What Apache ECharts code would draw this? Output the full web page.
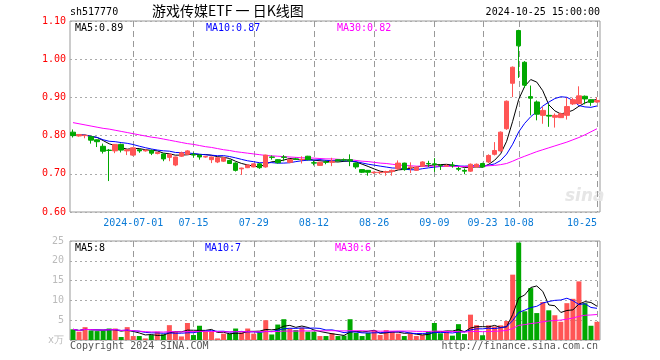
<!DOCTYPE html>
<html><head><meta charset="utf-8">
<script src="https://cdn.jsdelivr.net/npm/echarts@6/dist/echarts.min.js"></script>
<style>html,body{margin:0;padding:0;background:#fff}#c{width:660px;height:360px}</style>
</head><body><div id="c"></div><script>
const dates = [
'2024-06-17','2024-06-18','2024-06-19','2024-06-20','2024-06-21','2024-06-24','2024-06-25','2024-06-26','2024-06-27','2024-06-28',
'2024-07-01','2024-07-02','2024-07-03','2024-07-04','2024-07-05','2024-07-08','2024-07-09','2024-07-10','2024-07-11','2024-07-12',
'2024-07-15','2024-07-16','2024-07-17','2024-07-18','2024-07-19','2024-07-22','2024-07-23','2024-07-24','2024-07-25','2024-07-26',
'2024-07-29','2024-07-30','2024-07-31','2024-08-01','2024-08-02','2024-08-05','2024-08-06','2024-08-07','2024-08-08','2024-08-09',
'2024-08-12','2024-08-13','2024-08-14','2024-08-15','2024-08-16','2024-08-19','2024-08-20','2024-08-21','2024-08-22','2024-08-23',
'2024-08-26','2024-08-27','2024-08-28','2024-08-29','2024-08-30','2024-09-02','2024-09-03','2024-09-04','2024-09-05','2024-09-06',
'2024-09-09','2024-09-10','2024-09-11','2024-09-12','2024-09-13','2024-09-18','2024-09-19','2024-09-20','2024-09-23','2024-09-24',
'2024-09-25','2024-09-26','2024-09-27','2024-09-30','2024-10-08','2024-10-09','2024-10-10','2024-10-11','2024-10-14','2024-10-15',
'2024-10-16','2024-10-17','2024-10-18','2024-10-21','2024-10-22','2024-10-23','2024-10-24','2024-10-25'];
const openP = [0.809,0.799,0.800,0.797,0.789,0.772,0.762,0.760,0.777,0.760,
0.749,0.763,0.760,0.761,0.753,0.752,0.743,0.723,0.746,0.751,
0.751,0.749,0.744,0.737,0.731,0.733,0.735,0.728,0.713,0.716,
0.718,0.726,0.718,0.744,0.737,0.744,0.730,0.739,0.737,0.746,
0.729,0.722,0.731,0.730,0.737,0.737,0.737,0.728,0.711,0.709,
0.703,0.703,0.704,0.706,0.713,0.728,0.716,0.709,0.720,0.727,
0.726,0.722,0.720,0.723,0.714,0.709,0.707,0.718,0.727,0.731,
0.751,0.760,0.818,0.937,1.075,0.992,0.902,0.888,0.853,0.853,
0.848,0.847,0.853,0.883,0.884,0.903,0.894,0.888];
const closeP = [0.800,0.803,0.801,0.788,0.784,0.759,0.761,0.777,0.762,0.763,
0.768,0.760,0.762,0.754,0.756,0.739,0.751,0.744,0.755,0.760,
0.749,0.744,0.745,0.744,0.742,0.742,0.727,0.709,0.715,0.723,
0.726,0.716,0.749,0.743,0.729,0.743,0.737,0.738,0.738,0.737,
0.728,0.730,0.730,0.733,0.734,0.736,0.734,0.718,0.704,0.704,
0.704,0.704,0.706,0.709,0.728,0.711,0.718,0.718,0.731,0.726,
0.724,0.721,0.722,0.721,0.712,0.707,0.725,0.725,0.718,0.748,
0.761,0.809,0.890,0.979,1.035,0.932,0.898,0.856,0.866,0.851,
0.853,0.857,0.876,0.894,0.904,0.896,0.887,0.892];
const highP = [0.816,0.804,0.802,0.799,0.790,0.779,0.765,0.778,0.779,0.764,
0.769,0.765,0.763,0.764,0.757,0.754,0.752,0.745,0.758,0.762,
0.756,0.750,0.747,0.745,0.744,0.744,0.737,0.730,0.716,0.724,
0.727,0.728,0.750,0.748,0.738,0.749,0.739,0.742,0.746,0.747,
0.734,0.731,0.735,0.742,0.738,0.740,0.751,0.729,0.712,0.710,
0.706,0.707,0.708,0.711,0.735,0.729,0.730,0.720,0.733,0.734,
0.741,0.724,0.724,0.731,0.718,0.714,0.727,0.727,0.729,0.751,
0.783,0.811,0.892,0.981,1.077,0.995,0.931,0.892,0.875,0.883,
0.858,0.860,0.899,0.899,0.929,0.905,0.895,0.900];
const lowP = [0.795,0.797,0.793,0.779,0.770,0.753,0.681,0.754,0.756,0.749,
0.747,0.755,0.758,0.749,0.751,0.733,0.733,0.720,0.744,0.750,
0.742,0.737,0.742,0.728,0.728,0.731,0.726,0.706,0.697,0.715,
0.717,0.713,0.716,0.737,0.727,0.733,0.728,0.736,0.727,0.735,
0.722,0.721,0.725,0.720,0.733,0.733,0.720,0.713,0.702,0.695,
0.700,0.699,0.695,0.695,0.710,0.708,0.702,0.708,0.718,0.718,
0.705,0.710,0.718,0.716,0.707,0.699,0.705,0.716,0.716,0.728,
0.748,0.758,0.815,0.901,0.951,0.925,0.853,0.840,0.831,0.823,
0.821,0.846,0.842,0.880,0.882,0.882,0.878,0.886];
const ma30Price = [0.834,0.831,0.828,0.825,0.822,0.819,0.817,0.814,0.811,0.808,
0.805,0.802,0.799,0.796,0.794,0.791,0.788,0.785,0.782,0.779,
0.777,0.774,0.771,0.769,0.766,0.763,0.761,0.758,0.756,0.754,
0.752,0.750,0.748,0.747,0.746,0.745,0.744,0.743,0.742,0.742,
0.741,0.740,0.739,0.739,0.738,0.737,0.737,0.735,0.733,0.732,
0.730,0.728,0.727,0.725,0.723,0.722,0.721,0.720,0.720,0.720,
0.720,0.720,0.720,0.719,0.719,0.719,0.719,0.719,0.720,0.721,
0.722,0.724,0.727,0.733,0.740,0.746,0.752,0.758,0.763,0.768,
0.773,0.778,0.783,0.789,0.795,0.802,0.810,0.818];
const volume = [2.7,2.1,3.25,2.4,2.25,2.4,2.9,2.9,0.75,3.25,
1.0,1.0,0.4,1.25,2.1,1.4,3.75,2.1,0.9,4.3,
1.25,3.6,2.1,2.1,0.4,1.6,1.6,2.9,1.9,2.9,
1.6,1.9,5.0,1.4,3.9,5.25,2.9,2.5,3.1,2.1,
2.1,1.0,1.0,1.7,1.0,1.1,5.25,1.8,1.0,1.8,
2.5,1.25,2.5,2.1,1.6,1.0,1.6,1.0,1.25,2.1,
4.3,1.7,2.1,1.1,4.0,1.5,6.4,3.75,1.2,3.7,
3.4,3.7,4.8,16.5,24.6,7.25,13.1,6.8,9.6,7.5,
6.25,4.6,9.3,10.4,14.8,9.3,3.6,4.6];
const tickDates = ['2024-07-01','2024-07-15','2024-07-29','2024-08-12','2024-08-26','2024-09-09','2024-09-23','2024-10-08','2024-10-25'];
const priceLegend = ['MA5:0.89','MA10:0.87','MA30:0.82'];
const volLegend = ['MA5:8','MA10:7','MA30:6'];
const titleCode = 'sh517770';
const titleText = '游戏传媒ETF 一 日K线图';
const titleTime = '2024-10-25 15:00:00';

const RED = '#ff5555', GREEN = '#00a800';
const MONO = 'DejaVu Sans Mono';
const G0 = { top: 21, height: 191 }, G1 = { top: 241, height: 99 };
function ma(arr, n) {
  return arr.map((_, i) => { const s = Math.max(0, i - n + 1); let t = 0; for (let k = s; k <= i; k++) t += arr[k]; return +(t / (i - s + 1)).toFixed(4); });
}
const candle = dates.map((d, i) => [openP[i], closeP[i], lowP[i], highP[i]]);
const volData = volume.map((v, i) => ({ value: v, itemStyle: { color: closeP[i] >= openP[i] ? RED : GREEN } }));
const tickIdx = tickDates.map(d => dates.indexOf(d));
const tickIdxSet = new Set(tickIdx);
const isTick = (i) => tickIdxSet.has(i);
const lineS = (name, data, color, xi, yi) => ({ type: 'line', data, xAxisIndex: xi, yAxisIndex: yi, showSymbol: false, symbol: 'none', lineStyle: { color, width: 1 }, z: 3, silent: true });
const txt = (id, pos, text, font, fill) => Object.assign({ id, type: 'text', style: { text, font, fill } }, pos);
const texts = [
  txt('t1', { left: 70, top: 7 }, titleCode, '10px "DejaVu Sans Mono"', '#000'),
  txt('t2', { left: 152, top: 4 }, titleText, '14px "Noto Sans CJK SC"', '#000'),
  txt('t3', { right: 60, top: 7 }, titleTime, '10px "DejaVu Sans Mono"', '#000'),
  txt('l1', { left: 75, top: 23 }, priceLegend[0], '10px "DejaVu Sans Mono"', '#000'),
  txt('l2', { left: 206, top: 23 }, priceLegend[1], '10px "DejaVu Sans Mono"', '#0000ff'),
  txt('l3', { left: 337, top: 23 }, priceLegend[2], '10px "DejaVu Sans Mono"', '#ff00ff'),
  txt('v1', { left: 75, top: 243 }, volLegend[0], '10px "DejaVu Sans Mono"', '#000'),
  txt('v2', { left: 205, top: 243 }, volLegend[1], '10px "DejaVu Sans Mono"', '#0000ff'),
  txt('v3', { left: 335, top: 243 }, volLegend[2], '10px "DejaVu Sans Mono"', '#ff00ff'),
  txt('c1', { left: 70, top: 341 }, 'Copyright 2024 SINA.COM', '10px "DejaVu Sans Mono"', '#555'),
  txt('c2', { right: 62, top: 341 }, 'http://finance.sina.com.cn', '10px "DejaVu Sans Mono"', '#555'),
  txt('w1', { left: 565, top: 188 }, 'sina', 'italic bold 17px "DejaVu Sans"', '#e6e6e6')
];

const chart = echarts.init(document.getElementById('c'), null, { renderer: 'canvas' });
chart.setOption({
  animation: false,
  backgroundColor: '#fff',
  textStyle: { fontFamily: MONO },
  grid: [
    { left: 70, top: G0.top, width: 530, height: G0.height, show: true, borderColor: '#999', borderWidth: 1 },
    { left: 70, top: G1.top, width: 530, height: G1.height, show: true, borderColor: '#999', borderWidth: 1 }
  ],
  xAxis: [
    { type: 'category', gridIndex: 0, data: dates, boundaryGap: true,
      axisLine: { show: false }, axisTick: { show: false }, splitLine: { show: false },
      axisLabel: { interval: isTick, formatter: v => v === tickDates[0] ? v : v.slice(5),
        color: '#0a7ad6', fontFamily: MONO, fontSize: 10, margin: 6, alignMaxLabel: 'right' } },
    { type: 'category', gridIndex: 1, data: dates, boundaryGap: true,
      axisLine: { show: false }, axisTick: { show: false }, splitLine: { show: false }, axisLabel: { show: false } }
  ],
  yAxis: [
    { type: 'value', gridIndex: 0, min: 0.6, max: 1.1, interval: 0.1,
      axisLine: { show: false }, axisTick: { show: false },
      axisLabel: { color: '#ff0000', fontFamily: MONO, fontSize: 10, margin: 4, formatter: v => v.toFixed(2) },
      splitLine: { show: true, lineStyle: { color: '#aaa', type: [2, 3], width: 1 } } },
    { type: 'value', gridIndex: 1, min: 0, max: 25, interval: 5,
      axisLine: { show: false }, axisTick: { show: false },
      axisLabel: { color: '#bbb', fontFamily: MONO, fontSize: 10, margin: 6, formatter: v => v === 0 ? 'x万' : String(v) },
      splitLine: { show: true, lineStyle: { color: '#aaa', type: [2, 3], width: 1 } } }
  ],
  series: [
    { type: 'candlestick', xAxisIndex: 0, yAxisIndex: 0, data: candle, barWidth: 5,
      itemStyle: { color: RED, color0: GREEN, borderColor: RED, borderColor0: GREEN, borderWidth: 1 },
      silent: true, z: 3 },
    lineS('MA5', ma(closeP, 5), '#000000', 0, 0),
    lineS('MA10', ma(closeP, 10), '#0000ff', 0, 0),
    lineS('MA30', ma30Price, '#ff00ff', 0, 0),
    { type: 'bar', xAxisIndex: 1, yAxisIndex: 1, data: volData, barWidth: 5, silent: true, z: 3 },
    lineS('VMA5', ma(volume, 5), '#000000', 1, 1),
    lineS('VMA10', ma(volume, 10), '#0000ff', 1, 1),
    lineS('VMA30', ma(volume, 30), '#ff00ff', 1, 1)
  ],
  graphic: texts
});

// vertical dashed date lines, positioned through the library's own category scale
const dashLines = [];
tickIdx.forEach((k, n) => {
  const x0 = Math.round(chart.convertToPixel({ xAxisIndex: 0 }, k)) + 0.5;
  const x1 = Math.round(chart.convertToPixel({ xAxisIndex: 1 }, k)) + 0.5;
  dashLines.push({ id: 'dp' + n, type: 'line', z: 1, silent: true,
    shape: { x1: x0, y1: G0.top, x2: x0, y2: G0.top + G0.height },
    style: { stroke: '#999', lineWidth: 1, lineDash: [6, 4] } });
  dashLines.push({ id: 'dv' + n, type: 'line', z: 1, silent: true,
    shape: { x1: x1, y1: G1.top, x2: x1, y2: G1.top + G1.height },
    style: { stroke: '#999', lineWidth: 1, lineDash: [6, 4] } });
});
chart.setOption({ graphic: texts.concat(dashLines) });
</script></body></html>
